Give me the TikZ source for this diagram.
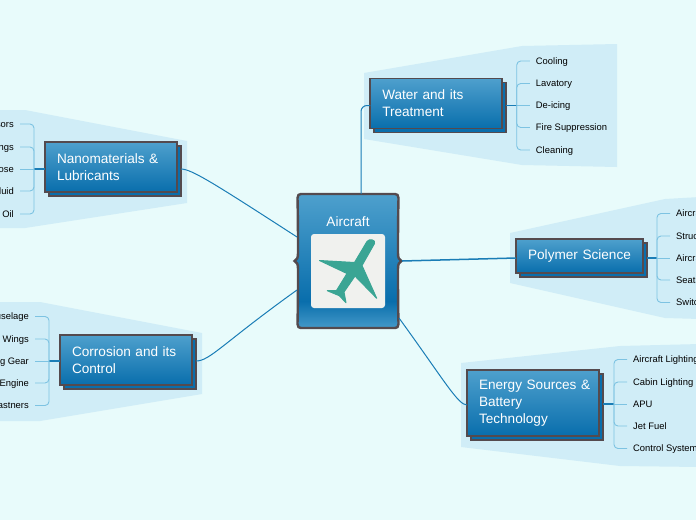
\documentclass[tikz,border=0pt]{standalone}
\usepackage{fontspec}
\setmainfont{Liberation Sans}
\usepackage{xcolor}
\usepackage{tikz}
\usetikzlibrary{shadows}
\definecolor{bgblue}{RGB}{232,251,251}
\definecolor{panelblue}{RGB}{208,237,247}
\definecolor{edgegrey}{RGB}{84,74,78}
\definecolor{boxtop}{RGB}{78,160,205}
\definecolor{boxlow}{RGB}{9,110,172}
\definecolor{linkblue}{RGB}{26,125,182}
\definecolor{forkblue}{RGB}{125,195,226}
\definecolor{planegreen}{RGB}{58,165,148}
\definecolor{iconwhite}{RGB}{240,241,238}
\pgfdeclareverticalshading{rootshade}{100bp}{
  color(0bp)=(boxtop!85!boxlow); color(25bp)=(boxtop!85!boxlow);
  color(35bp)=(boxlow); color(75bp)=(boxtop); color(100bp)=(boxtop)}
\tikzset{
    rootnode/.style = {draw=none, rectangle, inner sep = 0em, outer sep = 0em, minimum width=102pt, minimum height=134pt},
    roottext/.style = {draw=none, fill=none, rectangle, inner sep = 0em, text=white, font=\fontsize{13.6}{17}\selectfont},
    iconnode/.style = {draw=none, fill=iconwhite, rectangle, rounded corners=3pt, minimum size=74pt, inner sep = 0em},
    topicnode/.style = {draw=edgegrey, line width=1.8pt, rectangle, top color=boxtop, bottom color=boxlow,
      general shadow={shadow xshift=4pt, shadow yshift=-4pt, fill=boxlow, draw=edgegrey, line width=1.8pt},
      minimum width=132pt, outer sep = 0em, inner xsep = 0em, inner ysep = 0em, text width=108pt, align=left,
      text=white, font=\fontsize{13.6}{17}\selectfont},
    rightchild/.style = {draw=none, fill=none, rectangle, anchor=west, inner xsep = 6pt, inner ysep = 0em,
      text height=8pt, text depth=1.5pt, font=\fontsize{9.4}{11}\selectfont},
    leftchild/.style = {rightchild, anchor=east},
    panel/.style = {fill=panelblue, draw=none},
    connect/.style = {linkblue, line width=1pt},
    stem/.style = {linkblue, line width=1.2pt},
    fork/.style = {forkblue, line width=0.9pt, rounded corners=4pt},
}
\begin{document}
\begin{tikzpicture}[x=1pt, y=1pt, node distance=0em]
    \useasboundingbox (0,0) rectangle (696,-520);
    \clip (0,0) rectangle (696,-520);
    \fill[bgblue] (0,0) rectangle (696,-520);
    % panels behind the topics
    \fill[panel] (364,-73) -- (522,-46) -- (617,-44) -- (617,-167) -- (522,-165) -- (364,-139) -- cycle;
    \fill[panel] (187,-141) -- (25,-110) -- (-20,-110) -- (-20,-228) -- (25,-228) -- (187,-203) -- cycle;
    \fill[panel] (202,-333) -- (40,-302) -- (-20,-302) -- (-20,-421) -- (40,-421) -- (202,-394) -- cycle;
    \fill[panel] (510,-233) -- (665,-199) -- (700,-197) -- (700,-319) -- (665,-318) -- (510,-283) -- cycle;
    \fill[panel] (461,-363) -- (620,-346) -- (700,-344) -- (700,-467) -- (620,-466) -- (461,-447) -- cycle;
    % root
    \node[rootnode, name=R] at (348,-261) {};
    \begin{scope}[shift={(R.center)}]
        \path[shade, shading=rootshade, draw=edgegrey, line width=2.4pt]
            (-47,67) -- (47,67) .. controls (49,67) and (50.5,66) .. (50.5,63)
            .. controls (50,40) and (50,20) .. (50,8) .. controls (50,3) and (51,1) .. (53.5,0)
            .. controls (51,-1) and (50,-3) .. (50,-8) .. controls (50,-20) and (50,-40) .. (50.5,-63)
            .. controls (50.5,-66) and (49,-67) .. (47,-67) -- (-47,-67)
            .. controls (-49,-67) and (-50.5,-66) .. (-50.5,-63) .. controls (-50,-40) and (-50,-20) .. (-50,-8)
            .. controls (-50,-3) and (-51,-1) .. (-53.5,0) .. controls (-51,1) and (-50,3) .. (-50,8)
            .. controls (-50,20) and (-50,40) .. (-50.5,63) .. controls (-50.5,66) and (-49,67) .. (-47,67) -- cycle;
    \end{scope}
    \node[roottext, name=RT, right of = R, yshift=39pt] {Aircraft};
    \node[iconnode, name=I, right of = R, yshift=-10pt] {};
    \fill[planegreen, draw=planegreen, line width=1pt, line join=round]
        (374.5,-243.5) .. controls (376,-239.5) and (369,-238.5) .. (367,-241.5) -- (354.5,-262.5) -- (319.5,-260.5)
        -- (347,-273.5) -- (336.5,-290.5) -- (327.3,-290.7) -- (339.3,-295.7) -- (346,-302.7)
        -- (344,-292) -- (355,-276) -- (376.7,-298.3) -- (362,-265.5) -- cycle;
    % topics
    \node[topicnode, name=W, right of = R, xshift=88.25pt, yshift=157.5pt, minimum height=50pt] {Water and its\\Treatment};
    \node[topicnode, name=N, right of = R, xshift=-237pt, yshift=94pt, minimum height=50pt] {Nanomaterials \&\\Lubricants};
    \node[topicnode, name=C, right of = R, xshift=-222pt, yshift=-99pt, minimum height=50pt] {Corrosion and its\\Control};
    \node[topicnode, name=P, right of = R, xshift=231.5pt, yshift=5pt, minimum width=127pt, minimum height=34pt, align=center] {Polymer Science};
    \node[topicnode, name=E, right of = R, xshift=185pt, yshift=-142pt, minimum height=66pt] {\mbox{Energy Sources \&}\\Battery\\Technology};
    % links to the root
    \draw[connect, rounded corners=6pt] ([xshift=13pt]R.north) |- ([yshift=-2pt]W.west);
    \draw[connect] ([yshift=24pt]R.west) .. controls +(-82,53) and +(10.5,0) .. ([xshift=4pt,yshift=-2pt]N.east);
    \draw[connect] ([yshift=-29pt]R.west) .. controls +(-74,-53) and +(14,0) .. ([xshift=4pt,yshift=-1pt]C.east);
    \draw[connect, line width=1.5pt] ([xshift=3pt]R.east) -- ([yshift=-2pt]P.west);
    \draw[connect] ([yshift=-57pt]R.east) .. controls +(45,-62) and +(-9,0) .. ([yshift=-2pt]E.west);
    % forks
    \coordinate (WF) at ([xshift=14.5pt,yshift=-2pt]W.east);
    \coordinate (NF) at ([xshift=-11pt,yshift=-2pt]N.west);
    \coordinate (CF) at ([xshift=-11pt,yshift=-1pt]C.west);
    \coordinate (PF) at ([xshift=14pt,yshift=-2pt]P.east);
    \coordinate (EF) at ([xshift=15pt,yshift=-1pt]E.east);
    \draw[stem] ([xshift=4pt,yshift=-2pt]W.east) -- (WF);
    \draw[stem] ([yshift=-2pt]N.west) -- (NF);
    \draw[stem] ([yshift=-1pt]C.west) -- (CF);
    \draw[stem] ([xshift=4pt,yshift=-2pt]P.east) -- (PF);
    \draw[stem] ([xshift=4pt,yshift=-1pt]E.east) -- (EF);
    % water
    \node[right of = WF, xshift=13pt, yshift=44.5pt, rightchild, name=W1] {Cooling};
    \node[right of = WF, xshift=13pt, yshift=22pt, rightchild, name=W2] {Lavatory};
    \node[right of = WF, xshift=13pt, rightchild, name=W3] {De-icing};
    \node[right of = WF, xshift=13pt, yshift=-22pt, rightchild, name=W4] {Fire Suppression};
    \node[right of = WF, xshift=13pt, yshift=-44.5pt, rightchild, name=W5] {Cleaning};
    \draw[fork] (WF) |- (W1.west);
    \draw[fork] (WF) |- (W2.west);
    \draw[fork] (WF) -- (W3.west);
    \draw[fork] (WF) |- (W4.west);
    \draw[fork] (WF) |- (W5.west);
    % nano
    \node[left of = NF, xshift=-14pt, yshift=45pt, leftchild, name=N1] {Sensors};
    \node[left of = NF, xshift=-14pt, yshift=22pt, leftchild, name=N2] {Coatings};
    \node[left of = NF, xshift=-14pt, leftchild, name=N3] {Hose};
    \node[left of = NF, xshift=-14pt, yshift=-22pt, leftchild, name=N4] {Fluid};
    \node[left of = NF, xshift=-14pt, yshift=-45pt, leftchild, name=N5] {Engine Oil};
    \draw[fork] (NF) |- (N1.east);
    \draw[fork] (NF) |- (N2.east);
    \draw[fork] (NF) -- (N3.east);
    \draw[fork] (NF) |- (N4.east);
    \draw[fork] (NF) |- (N5.east);
    % corrosion
    \node[left of = CF, xshift=-14pt, yshift=44.5pt, leftchild, name=C1] {Fuselage};
    \node[left of = CF, xshift=-14pt, yshift=22pt, leftchild, name=C2] {Wings};
    \node[left of = CF, xshift=-14pt, leftchild, name=C3] {Landing Gear};
    \node[left of = CF, xshift=-14pt, yshift=-22pt, leftchild, name=C4] {Engine};
    \node[left of = CF, xshift=-14pt, yshift=-44.5pt, leftchild, name=C5] {Fastners};
    \draw[fork] (CF) |- (C1.east);
    \draw[fork] (CF) |- (C2.east);
    \draw[fork] (CF) -- (C3.east);
    \draw[fork] (CF) |- (C4.east);
    \draw[fork] (CF) |- (C5.east);
    % polymer
    \node[right of = PF, xshift=13pt, yshift=44.5pt, rightchild, name=P1] {Aircraft};
    \node[right of = PF, xshift=13pt, yshift=22pt, rightchild, name=P2] {Structure};
    \node[right of = PF, xshift=13pt, rightchild, name=P3] {Aircraft};
    \node[right of = PF, xshift=13pt, yshift=-22pt, rightchild, name=P4] {Seats};
    \node[right of = PF, xshift=13pt, yshift=-44.5pt, rightchild, name=P5] {Switches};
    \draw[fork] (PF) |- (P1.west);
    \draw[fork] (PF) |- (P2.west);
    \draw[fork] (PF) -- (P3.west);
    \draw[fork] (PF) |- (P4.west);
    \draw[fork] (PF) |- (P5.west);
    % energy
    \node[right of = EF, xshift=13pt, yshift=44.5pt, rightchild, name=E1] {Aircraft Lighting};
    \node[right of = EF, xshift=13pt, yshift=22pt, rightchild, name=E2] {Cabin Lighting};
    \node[right of = EF, xshift=13pt, rightchild, name=E3] {APU};
    \node[right of = EF, xshift=13pt, yshift=-22pt, rightchild, name=E4] {Jet Fuel};
    \node[right of = EF, xshift=13pt, yshift=-44.5pt, rightchild, name=E5] {Control Systems};
    \draw[fork] (EF) |- (E1.west);
    \draw[fork] (EF) |- (E2.west);
    \draw[fork] (EF) -- (E3.west);
    \draw[fork] (EF) |- (E4.west);
    \draw[fork] (EF) |- (E5.west);
\end{tikzpicture}
\end{document}
